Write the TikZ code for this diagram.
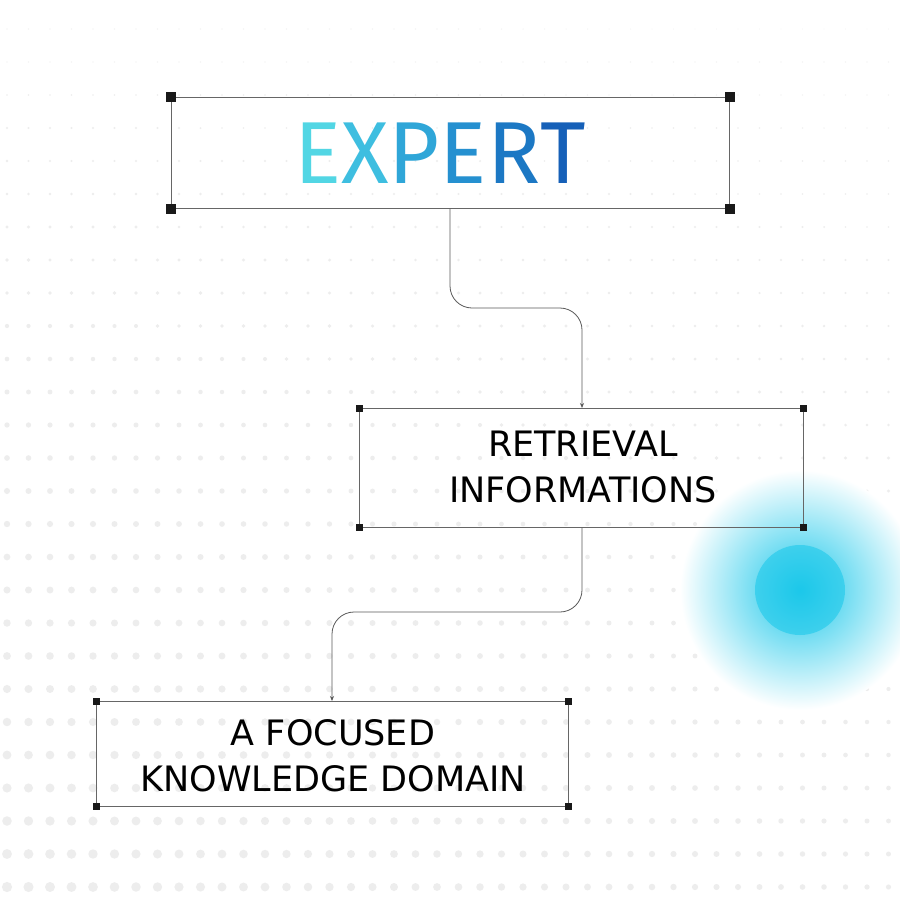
\documentclass[tikz,border=0pt]{standalone}
\usepackage{fontspec}
\setmainfont{Fira Sans}
\newfontfamily\lblfont{DejaVu Sans}
\usetikzlibrary{calc,arrows.meta}
\definecolor{glow}{HTML}{1CC8EA}
\begin{document}
\begin{tikzpicture}[x=1pt,y=-1pt,
  box/.style={draw=black!60,line width=0.8pt,fill=none},
  corner/.style={fill=black!90},
  conn/.style={draw=black!65,line width=0.8pt,rounded corners=22pt},
  lbl/.style={font=\lblfont\fontsize{35}{46}\selectfont,align=center,text=black}]
\useasboundingbox (0,0) rectangle (900,900);
\fill[white] (0,0) rectangle (900,900);
% dotted background
\foreach \i in {0,...,41}{
  \foreach \j in {0,...,27}{
    \pgfmathsetmacro{\xx}{7+21.5*\i}
    \pgfmathsetmacro{\yy}{-4+33*\j}
    \pgfmathsetmacro{\rr}{max(0.4,0.4+4.8*(\yy/900)*(1-0.55*\xx/900))}
    \fill[black!7] (\xx,\yy) circle[radius=\rr];
  }}
% glow
\shade[inner color=glow,outer color=white]
  (800,590) circle[radius=120];
\fill[glow,opacity=0.6] (800,590) circle[radius=45];
% nodes
\node[box,minimum width=558,minimum height=111,anchor=north west] (e) at (171,97) {};
\node[box,minimum width=444,minimum height=119,anchor=north west] (r) at (359,408) {};
\node[box,minimum width=472,minimum height=105,anchor=north west] (f) at (96,701) {};
\foreach \c in {north west,north east,south west,south east}{
  \fill[corner] ($(e.\c)+(-5,-5)$) rectangle ++(10,10);
}
\foreach \n in {r,f}{\foreach \c in {north west,north east,south west,south east}{
  \fill[corner] ($(\n.\c)+(-3.5,-3.5)$) rectangle ++(7,7);
}}
\node (et) at (440,153) {\fontsize{88}{88}\selectfont
 \textcolor[HTML]{52D6E4}{E}\textcolor[HTML]{3EBEE0}{X}\textcolor[HTML]{2FA6D8}{P}\textcolor[HTML]{2590D0}{E}\textcolor[HTML]{1C78C4}{R}\textcolor[HTML]{1660B8}{T}};
\node[lbl] (rt) at (583,467) {RETRIEVAL\\INFORMATIONS};
\node[lbl] (ft) at (333,756) {A FOCUSED\\KNOWLEDGE DOMAIN};
% connectors
\coordinate (m1) at (450,308);
\coordinate (m2) at (582,308);
\draw[conn,-{Stealth[length=5pt,width=4pt]}] (e.south -| m1) -- (m1) -- (m2) -- (r.north -| m2);
\coordinate (n1) at (582,612);
\coordinate (n2) at (332,612);
\draw[conn,-{Stealth[length=5pt,width=4pt]}] (r.south -| n1) -- (n1) -- (n2) -- (f.north -| n2);
\end{tikzpicture}
\end{document}
